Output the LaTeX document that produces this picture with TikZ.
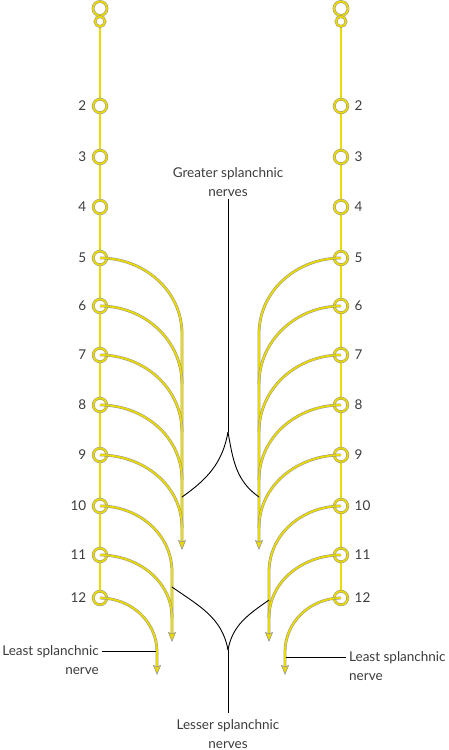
\documentclass[tikz,border=0pt]{standalone}
\usepackage{fontspec}
\setmainfont{Lato}
\usepackage{tikz}
\usetikzlibrary{arrows.meta, backgrounds}
\definecolor{nerveyellow}{RGB}{234,218,0}
\definecolor{nervegray}{RGB}{150,150,150}
\definecolor{labelgray}{RGB}{60,60,60}
\tikzset{
    gangl/.style={circle, draw=nerveyellow, line width=1.8pt, inner sep=0pt, minimum size=#1, preaction={fill=white}, preaction={draw=nervegray, line width=2.8pt}},
    gangl/.default=13.5pt,
    nervefib/.style={draw=nerveyellow, line width=1.8pt, preaction={draw=nervegray, line width=2.8pt}},
    nervearrow/.style={draw=nerveyellow, line width=1.8pt, -{Stealth[length=10pt, width=8pt, inset=1.5pt, fill=nerveyellow, color=nervegray, line width=0.6pt]}, preaction={draw=nervegray, line width=2.8pt, arrows=-, shorten >=7pt}},
    leader/.style={draw=black, line width=0.9pt},
    nervelabel/.style={font=\fontsize{13.5}{18.5}\selectfont, text=labelgray, align=center, inner sep=3pt},
    seglabel/.style={font=\fontsize{13.5}{15}\selectfont, text=labelgray, label distance=2.5pt}
}

\begin{document}
\begin{tikzpicture}[x=1pt, y=1pt]
\useasboundingbox (0,0) rectangle (449,-750);

\node[gangl=14pt] (LTa) at (100,-8.5) {};
\node[gangl=10pt] (LTb) at (100,-21.5) {};
\node[gangl=14pt] (RTa) at (341,-8.5) {};
\node[gangl=10pt] (RTb) at (341,-21.5) {};
\foreach \n/\y in {2/106,3/157,4/207,5/258,6/306,7/355,8/405,9/455,10/506,11/555,12/598} {
    \node[gangl, label={[seglabel]left:\n}] (L\n) at (100,-\y) {};
    \node[gangl, label={[seglabel]right:\n}] (R\n) at (341,-\y) {};
}

\begin{scope}[on background layer]
\draw[nervefib] (LTb.center) -- (L12.center);
\draw[nervefib] (RTb.center) -- (R12.center);
\end{scope}

\coordinate (GLtip) at (182,-550);
\coordinate (GRtip) at (259,-550);
\coordinate (SLtip) at (172,-642);
\coordinate (SRtip) at (269,-642);
\coordinate (ELtip) at (157,-675);
\coordinate (ERtip) at (285,-675);

\draw[nervearrow] (L5.center) to[out=0, in=90] (182,-334) -- (GLtip);
\draw[nervefib] (L6.center) to[out=0, in=90] (182,-384);
\draw[nervefib] (L7.center) to[out=0, in=90] (182,-432);
\draw[nervefib] (L8.center) to[out=0, in=90] (182,-480);
\draw[nervefib] (L9.center) to[out=0, in=90] (182,-528);
\draw[nervearrow] (R5.center) to[out=180, in=90] (259,-334) -- (GRtip);
\draw[nervefib] (R6.center) to[out=180, in=90] (259,-384);
\draw[nervefib] (R7.center) to[out=180, in=90] (259,-432);
\draw[nervefib] (R8.center) to[out=180, in=90] (259,-480);
\draw[nervefib] (R9.center) to[out=180, in=90] (259,-528);

\draw[nervearrow] (L10.center) to[out=0, in=90] (172,-572) -- (SLtip);
\draw[nervefib] (L11.center) to[out=0, in=90] (172,-618);
\draw[nervearrow] (R10.center) to[out=180, in=90] (269,-572) -- (SRtip);
\draw[nervefib] (R11.center) to[out=180, in=90] (269,-618);

\draw[nervearrow] (L12.center) to[out=0, in=90] (157,-652) -- (ELtip);
\draw[nervearrow] (R12.center) to[out=180, in=90] (285,-652) -- (ERtip);

\node[nervelabel] (greater) at (228,-182) {Greater splanchnic\\nerves};
\coordinate (gapex) at (228,-432);
\coordinate (gleft) at (182,-497);
\coordinate (gright) at (259,-497);
\draw[leader] (greater) -- (gapex);
\draw[leader] (gapex) to[out=-100, in=35] (gleft);
\draw[leader] (gapex) to[out=-80, in=145] (gright);

\node[nervelabel] (lesser) at (228,-734) {Lesser splanchnic\\nerves};
\coordinate (lapex) at (228,-650);
\coordinate (lleft) at (172,-587);
\coordinate (lright) at (269,-600);
\draw[leader, shorten >=4pt] (lapex) -- (lesser);
\draw[leader] (lapex) to[out=100, in=-35] (lleft);
\draw[leader] (lapex) to[out=80, in=-145] (lright);

\node[nervelabel, align=right, anchor=east] (leastL) at (102,-660) {Least splanchnic\\nerve};
\node[nervelabel, align=left, anchor=west] (leastR) at (346,-666) {Least splanchnic\\nerve};
\coordinate (eleft) at (156,-651);
\coordinate (eright) at (286,-657);
\draw[leader] (leastL.east |- eleft) -- (eleft);
\draw[leader] (eright) -- (eright -| leastR.west);

\end{tikzpicture}
\end{document}
